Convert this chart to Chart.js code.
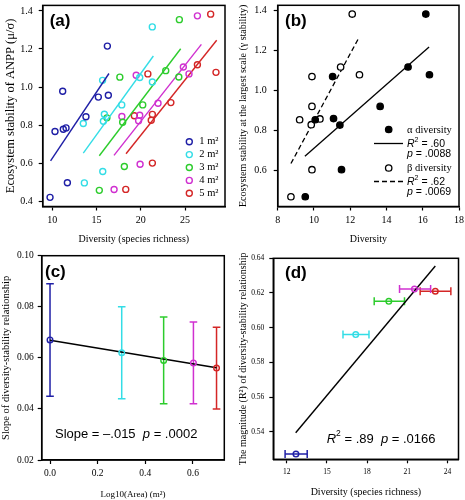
<!DOCTYPE html>
<html>
<head>
<meta charset="utf-8">
<title>Diversity and stability across plot sizes</title>
<script src="https://cdn.jsdelivr.net/npm/chart.js@4.4.1/dist/chart.umd.min.js"></script>
<style>
  body { margin: 0; background: #fff; }
  #wrap { position: relative; width: 465px; height: 500px; overflow: hidden; }
  canvas { position: absolute; }
</style>
</head>
<body>
<div id="wrap">
  <canvas id="chartA" width="232" height="245" style="left:0;top:0"></canvas>
  <canvas id="chartB" width="233" height="245" style="left:232px;top:0"></canvas>
  <canvas id="chartC" width="232" height="255" style="left:0;top:245px"></canvas>
  <canvas id="chartD" width="233" height="255" style="left:232px;top:245px"></canvas>
</div>
<script>
// ---- data ----
// (a) plot diversity vs stability, one pair per plot size
const sizeLabels = ['1 m²', '2 m²', '3 m²', '4 m²', '5 m²'];
const rich1 = [9.74, 10.3, 11.17, 11.24, 11.55, 11.7, 13.8, 15.2, 16.22, 16.33];
const stab1 = [0.42, 0.766, 0.978, 0.778, 0.785, 0.497, 0.844, 0.947, 1.215, 0.957];
const rich2 = [13.62, 13.5, 15.68, 15.7, 15.88, 15.77, 17.85, 19.88, 21.31, 21.3];
const stab2 = [0.496, 0.808, 1.035, 0.556, 0.857, 0.82, 0.906, 1.05, 1.026, 1.316];
const rich3 = [15.31, 16.17, 17.63, 17.95, 18.14, 20.22, 22.82, 24.3, 24.36];
const stab3 = [0.457, 0.838, 1.052, 0.815, 0.582, 0.906, 1.086, 1.053, 1.354];
const rich4 = [16.98, 17.86, 19.48, 19.88, 19.75, 19.92, 21.95, 24.81, 25.45, 26.4];
const stab4 = [0.461, 0.845, 1.062, 0.852, 0.823, 0.594, 0.915, 1.105, 1.069, 1.374];
const rich5 = [18.3, 19.27, 20.8, 21.31, 21.18, 21.31, 23.4, 26.4, 27.9, 28.5];
const stab5 = [0.462, 0.849, 1.069, 0.856, 0.825, 0.6, 0.918, 1.117, 1.383, 1.077];
// fitted lines (start / end)
const fitRichA = [[9.8, 16.4], [13.5, 21.42], [15.31, 24.51], [16.97, 26.85], [18.33, 28.58]];
const fitStabA = [[0.612, 1.071], [0.653, 1.163], [0.639, 1.201], [0.641, 1.224], [0.649, 1.246]];

// (b) alpha and beta diversity vs stability at largest scale
const alphaDiv = [9.52, 10.07, 11.03, 11.08, 11.43, 11.52, 13.65, 15.19, 16.17, 16.37];
const alphaStab = [0.466, 0.853, 1.07, 0.859, 0.826, 0.602, 0.92, 1.118, 1.384, 1.079];
const betaDiv = [8.73, 9.21, 9.89, 9.89, 9.85, 9.89, 10.33, 11.47, 12.11, 12.51];
const betaStab = [0.466, 0.853, 1.07, 0.92, 0.828, 0.602, 0.857, 1.118, 1.384, 1.079];
const fitAlphaX = [9.5, 16.35], fitAlphaY = [0.669, 1.218];
const fitBetaX = [8.73, 12.5], fitBetaY = [0.633, 1.269];

// (c) slope vs log10(area)
const areaLog = [0, 0.301, 0.477, 0.602, 0.699];
const slopeMean = [0.067, 0.062, 0.059, 0.058, 0.056];
const slopeLow = [0.045, 0.044, 0.042, 0.042, 0.040];
const slopeHigh = [0.089, 0.080, 0.076, 0.074, 0.072];
const fitCX = [0, 0.699], fitCY = [0.0669, 0.0561];

// (d) R2 magnitude vs mean richness
const meanRich = [12.69, 17.15, 19.62, 21.53, 23.09];
const richLow = [11.88, 16.2, 18.53, 20.42, 21.96];
const richHigh = [13.53, 18.14, 20.79, 22.74, 24.25];
const magR2 = [0.5271, 0.596, 0.6152, 0.6223, 0.621];
const fitDX = [12.67, 23.09], fitDY = [0.5394, 0.6356];

// tick labels
const ticksAX = [10, 15, 20, 25], ticksAY = [0.4, 0.6, 0.8, 1.0, 1.2, 1.4];
const ticksBX = [8, 10, 12, 14, 16, 18], ticksBY = [0.6, 0.8, 1.0, 1.2, 1.4];
const ticksCX = [0, 0.2, 0.4, 0.6], ticksCY = [0.02, 0.04, 0.06, 0.08, 0.10];
const ticksDX = [12, 15, 18, 21, 24], ticksDY = [0.54, 0.56, 0.58, 0.60, 0.62, 0.64];

const colors = ['#1f1fa6', '#33dde6', '#2ccc2c', '#d030d0', '#d42626'];
const SERIF = '"Liberation Serif", "Times New Roman", serif';
const SANS = '"Liberation Sans", Arial, sans-serif';

function pts(xs, ys) { return xs.map((x, i) => ({ x: x, y: ys[i] })); }

function makeAxis(o) {
  const bottom = o.position === 'bottom';
  return {
    type: 'linear', position: o.position, min: o.min, max: o.max,
    afterBuildTicks: s => { s.ticks = o.ticks.map(v => ({ value: v })); },
    afterFit: s => {
      if (bottom) s.height = o.size; else s.width = o.size;
      s.paddingTop = s.paddingBottom = s.paddingLeft = s.paddingRight = 0;
    },
    grid: { drawOnChartArea: false, drawTicks: true, tickLength: 4, tickWidth: 1.2, tickColor: '#000' },
    border: { display: true, color: '#000', width: 1.5 },
    ticks: {
      color: '#000', padding: o.tickPad, autoSkip: false, maxRotation: 0,
      font: { family: SERIF, size: o.tickSize || 10 },
      callback: v => v.toFixed(o.digits)
    },
    title: {
      display: true, text: o.title, color: '#000',
      font: { family: SERIF, size: o.titleSize || 10 },
      padding: bottom ? { top: 0, bottom: o.titlePad } : { top: o.titlePad, bottom: 0 }
    }
  };
}

const framePlugin = {
  id: 'frame',
  afterDraw(chart) {
    const a = chart.chartArea, ctx = chart.ctx;
    ctx.save();
    ctx.strokeStyle = '#000'; ctx.lineWidth = 1.5;
    ctx.strokeRect(a.left, a.top, a.right - a.left, a.bottom - a.top);
    ctx.restore();
  }
};

function drawRuns(ctx, x, y, runs) {
  ctx.textBaseline = 'middle'; ctx.textAlign = 'left'; ctx.fillStyle = '#000';
  runs.forEach(r => {
    ctx.font = r[1];
    ctx.fillText(r[0], x, y + (r[2] || 0));
    x += ctx.measureText(r[0]).width;
  });
}

function panelLetter(ctx, text, x, y) {
  drawRuns(ctx, x, y, [[text, 'bold 17px ' + SANS]]);
}

function baseOptions(pad) {
  return {
    responsive: false, animation: false, events: [],
    layout: { padding: pad },
    plugins: { legend: { display: false }, tooltip: { enabled: false } }
  };
}

// ---- (a) ----
const richA = [rich1, rich2, rich3, rich4, rich5];
const stabA = [stab1, stab2, stab3, stab4, stab5];
const dsA = [];
for (let i = 0; i < 5; i++) {
  dsA.push({ label: sizeLabels[i], data: pts(richA[i], stabA[i]), showLine: false,
    pointRadius: 3, pointBorderWidth: 1.4, pointBorderColor: colors[i], pointBackgroundColor: 'rgba(0,0,0,0)' });
  dsA.push({ label: sizeLabels[i] + ' fit', data: pts(fitRichA[i], fitStabA[i]), showLine: true,
    borderColor: colors[i], borderWidth: 1.4, pointRadius: 0 });
}
const optA = baseOptions({ left: 0, top: 1, right: 7, bottom: 0 });
optA.scales = {
  x: makeAxis({ position: 'bottom', min: 8.91, max: 29.52, ticks: ticksAX, size: 38.5, tickPad: 4, digits: 0,
    title: 'Diversity (species richness)', titlePad: 0 }),
  y: makeAxis({ position: 'left', min: 0.372, max: 1.429, ticks: ticksAY, size: 42.7, tickPad: 6, digits: 1,
    title: 'Ecosystem stability of ANPP (μ/σ)', titleSize: 12.5, titlePad: 3 })
};
new Chart(document.getElementById('chartA'), {
  type: 'scatter', data: { datasets: dsA }, options: optA,
  plugins: [framePlugin, {
    id: 'notesA',
    afterDraw(chart) {
      const ctx = chart.ctx, a = chart.chartArea;
      panelLetter(ctx, '(a)', a.left + 7, a.top + 16);
      sizeLabels.forEach((lab, i) => {
        const x = a.right - 35.7, y = a.bottom - 64.8 + i * 12.9;
        ctx.save();
        ctx.beginPath(); ctx.arc(x, y, 3, 0, Math.PI * 2);
        ctx.strokeStyle = colors[i]; ctx.lineWidth = 1.4; ctx.stroke();
        ctx.restore();
        drawRuns(ctx, x + 10, y, [[lab, '10.5px ' + SERIF]]);
      });
    }
  }]
});

// ---- (b) ----
const optB = baseOptions({ left: 0, top: 1, right: 6, bottom: 0 });
optB.scales = {
  x: makeAxis({ position: 'bottom', min: 8, max: 18, ticks: ticksBX, size: 38.5, tickPad: 4, digits: 0,
    title: 'Diversity', titlePad: 0 }),
  y: makeAxis({ position: 'left', min: 0.417, max: 1.428, ticks: ticksBY, size: 45.7, tickPad: 7, digits: 1,
    title: 'Ecosystem stability at the largest scale (γ stability)', titlePad: 5.5 })
};
new Chart(document.getElementById('chartB'), {
  type: 'scatter',
  data: { datasets: [
    { label: 'α diversity', data: pts(alphaDiv, alphaStab), pointRadius: 3.2, pointBorderWidth: 1.3,
      pointBorderColor: '#000', pointBackgroundColor: '#000' },
    { label: 'β diversity', data: pts(betaDiv, betaStab), pointRadius: 3.2, pointBorderWidth: 1.3,
      pointBorderColor: '#000', pointBackgroundColor: '#fff' },
    { label: 'α fit', data: pts(fitAlphaX, fitAlphaY), showLine: true, borderColor: '#000', borderWidth: 1.3, pointRadius: 0 },
    { label: 'β fit', data: pts(fitBetaX, fitBetaY), showLine: true, borderColor: '#000', borderWidth: 1.3,
      borderDash: [5, 3], pointRadius: 0 }
  ] },
  options: optB,
  plugins: [framePlugin, {
    id: 'notesB',
    afterDraw(chart) {
      const ctx = chart.ctx, a = chart.chartArea;
      const R = a.right, B = a.bottom;
      panelLetter(ctx, '(b)', a.left + 7.3, a.top + 16);
      const serif = '10.5px ' + SERIF, sans = '10.5px ' + SANS, ital = 'italic 10.5px ' + SANS, sup = '7px ' + SANS;
      ctx.save();
      ctx.lineWidth = 1.3; ctx.strokeStyle = '#000';
      ctx.beginPath(); ctx.arc(R - 70.3, B - 77, 3.2, 0, Math.PI * 2); ctx.fillStyle = '#000'; ctx.fill(); ctx.stroke();
      ctx.beginPath(); ctx.arc(R - 70.3, B - 38.5, 3.2, 0, Math.PI * 2); ctx.fillStyle = '#fff'; ctx.fill(); ctx.stroke();
      ctx.beginPath(); ctx.moveTo(R - 85, B - 63); ctx.lineTo(R - 56, B - 63); ctx.stroke();
      ctx.setLineDash([5, 3]);
      ctx.beginPath(); ctx.moveTo(R - 85, B - 25); ctx.lineTo(R - 56, B - 25); ctx.stroke();
      ctx.restore();
      drawRuns(ctx, R - 52, B - 76, [['α diversity', serif]]);
      drawRuns(ctx, R - 52, B - 62, [['R', ital], ['2', sup, -4], [' = .60', sans]]);
      drawRuns(ctx, R - 52, B - 52, [['p', ital], [' = .0088', sans]]);
      drawRuns(ctx, R - 52, B - 38, [['β diversity', serif]]);
      drawRuns(ctx, R - 52, B - 24.5, [['R', ital], ['2', sup, -4], [' = .62', sans]]);
      drawRuns(ctx, R - 52, B - 14, [['p', ital], [' = .0069', sans]]);
    }
  }]
});

// ---- (c) ----
const dsC = [];
for (let i = 0; i < 5; i++) {
  dsC.push({ label: sizeLabels[i], data: [{ x: areaLog[i], y: slopeMean[i] }], pointRadius: 2.8,
    pointBorderWidth: 1.4, pointBorderColor: colors[i], pointBackgroundColor: 'rgba(0,0,0,0)' });
}
dsC.push({ label: 'fit', data: pts(fitCX, fitCY), showLine: true, borderColor: '#000', borderWidth: 1.5, pointRadius: 0 });
for (let i = 0; i < 5; i++) {
  dsC.push({ label: sizeLabels[i] + ' range', data: [{ x: areaLog[i], y: slopeLow[i] }, { x: areaLog[i], y: slopeHigh[i] }],
    showLine: true, borderColor: colors[i], borderWidth: 1.5,
    pointStyle: 'line', pointRadius: 3.8, pointBorderWidth: 1.5, pointBorderColor: colors[i] });
}
const optC = baseOptions({ left: 0, top: 10.7, right: 7.7, bottom: 0 });
optC.scales = {
  x: makeAxis({ position: 'bottom', min: -0.0349, max: 0.7316, ticks: ticksCX, size: 40, tickPad: 4, digits: 1,
    tickSize: 9.5, title: 'Log10(Area) (m²)', titleSize: 9, titlePad: 0 }),
  y: makeAxis({ position: 'left', min: 0.02, max: 0.10, ticks: ticksCY, size: 41.7, tickPad: 4, digits: 2,
    tickSize: 9.5, title: 'Slope of diversity-stability relationship', titleSize: 10.5, titlePad: 0 })
};
new Chart(document.getElementById('chartC'), {
  type: 'scatter', data: { datasets: dsC }, options: optC,
  plugins: [framePlugin, {
    id: 'notesC',
    afterDraw(chart) {
      const ctx = chart.ctx, a = chart.chartArea;
      panelLetter(ctx, '(c)', a.left + 3.3, a.top + 17);
      const f = '13px ' + SANS;
      drawRuns(ctx, a.left + 13.3, a.bottom - 26, [['Slope = –.015  ', f], ['p', 'italic 13px ' + SANS], [' = .0002', f]]);
    }
  }]
});

// ---- (d) ----
const dsD = [];
for (let i = 0; i < 5; i++) {
  dsD.push({ label: sizeLabels[i], data: [{ x: meanRich[i], y: magR2[i] }], pointRadius: 2.8,
    pointBorderWidth: 1.4, pointBorderColor: colors[i], pointBackgroundColor: 'rgba(0,0,0,0)' });
}
dsD.push({ label: 'fit', data: pts(fitDX, fitDY), showLine: true, borderColor: '#000', borderWidth: 1.4, pointRadius: 0 });
for (let i = 0; i < 5; i++) {
  dsD.push({ label: sizeLabels[i] + ' range', data: [{ x: richLow[i], y: magR2[i] }, { x: richHigh[i], y: magR2[i] }],
    showLine: true, borderColor: colors[i], borderWidth: 1.5,
    pointStyle: 'line', rotation: 90, pointRadius: 4, pointBorderWidth: 1.5, pointBorderColor: colors[i] });
}
const optD = baseOptions({ left: 0, top: 13.3, right: 6.5, bottom: 0 });
optD.scales = {
  x: makeAxis({ position: 'bottom', min: 11.0, max: 24.82, ticks: ticksDX, size: 40.7, tickPad: 4, digits: 0,
    tickSize: 7.5, title: 'Diversity (species richness)', titlePad: 2 }),
  y: makeAxis({ position: 'left', min: 0.5241, max: 0.64, ticks: ticksDY, size: 41.3, tickPad: 5, digits: 2,
    tickSize: 7.5, title: 'The magnitude (R²) of diversity-stability relationship', titlePad: 5.5 })
};
new Chart(document.getElementById('chartD'), {
  type: 'scatter', data: { datasets: dsD }, options: optD,
  plugins: [framePlugin, {
    id: 'notesD',
    afterDraw(chart) {
      const ctx = chart.ctx, a = chart.chartArea;
      panelLetter(ctx, '(d)', a.left + 11.7, a.top + 15);
      const f = '13px ' + SANS, it = 'italic 13px ' + SANS;
      drawRuns(ctx, a.left + 53.4, a.bottom - 20.3,
        [['R', it], ['2', '8.5px ' + SANS, -5], [' = .89  ', f], ['p', it], [' = .0166', f]]);
    }
  }]
});
</script>
</body>
</html>
